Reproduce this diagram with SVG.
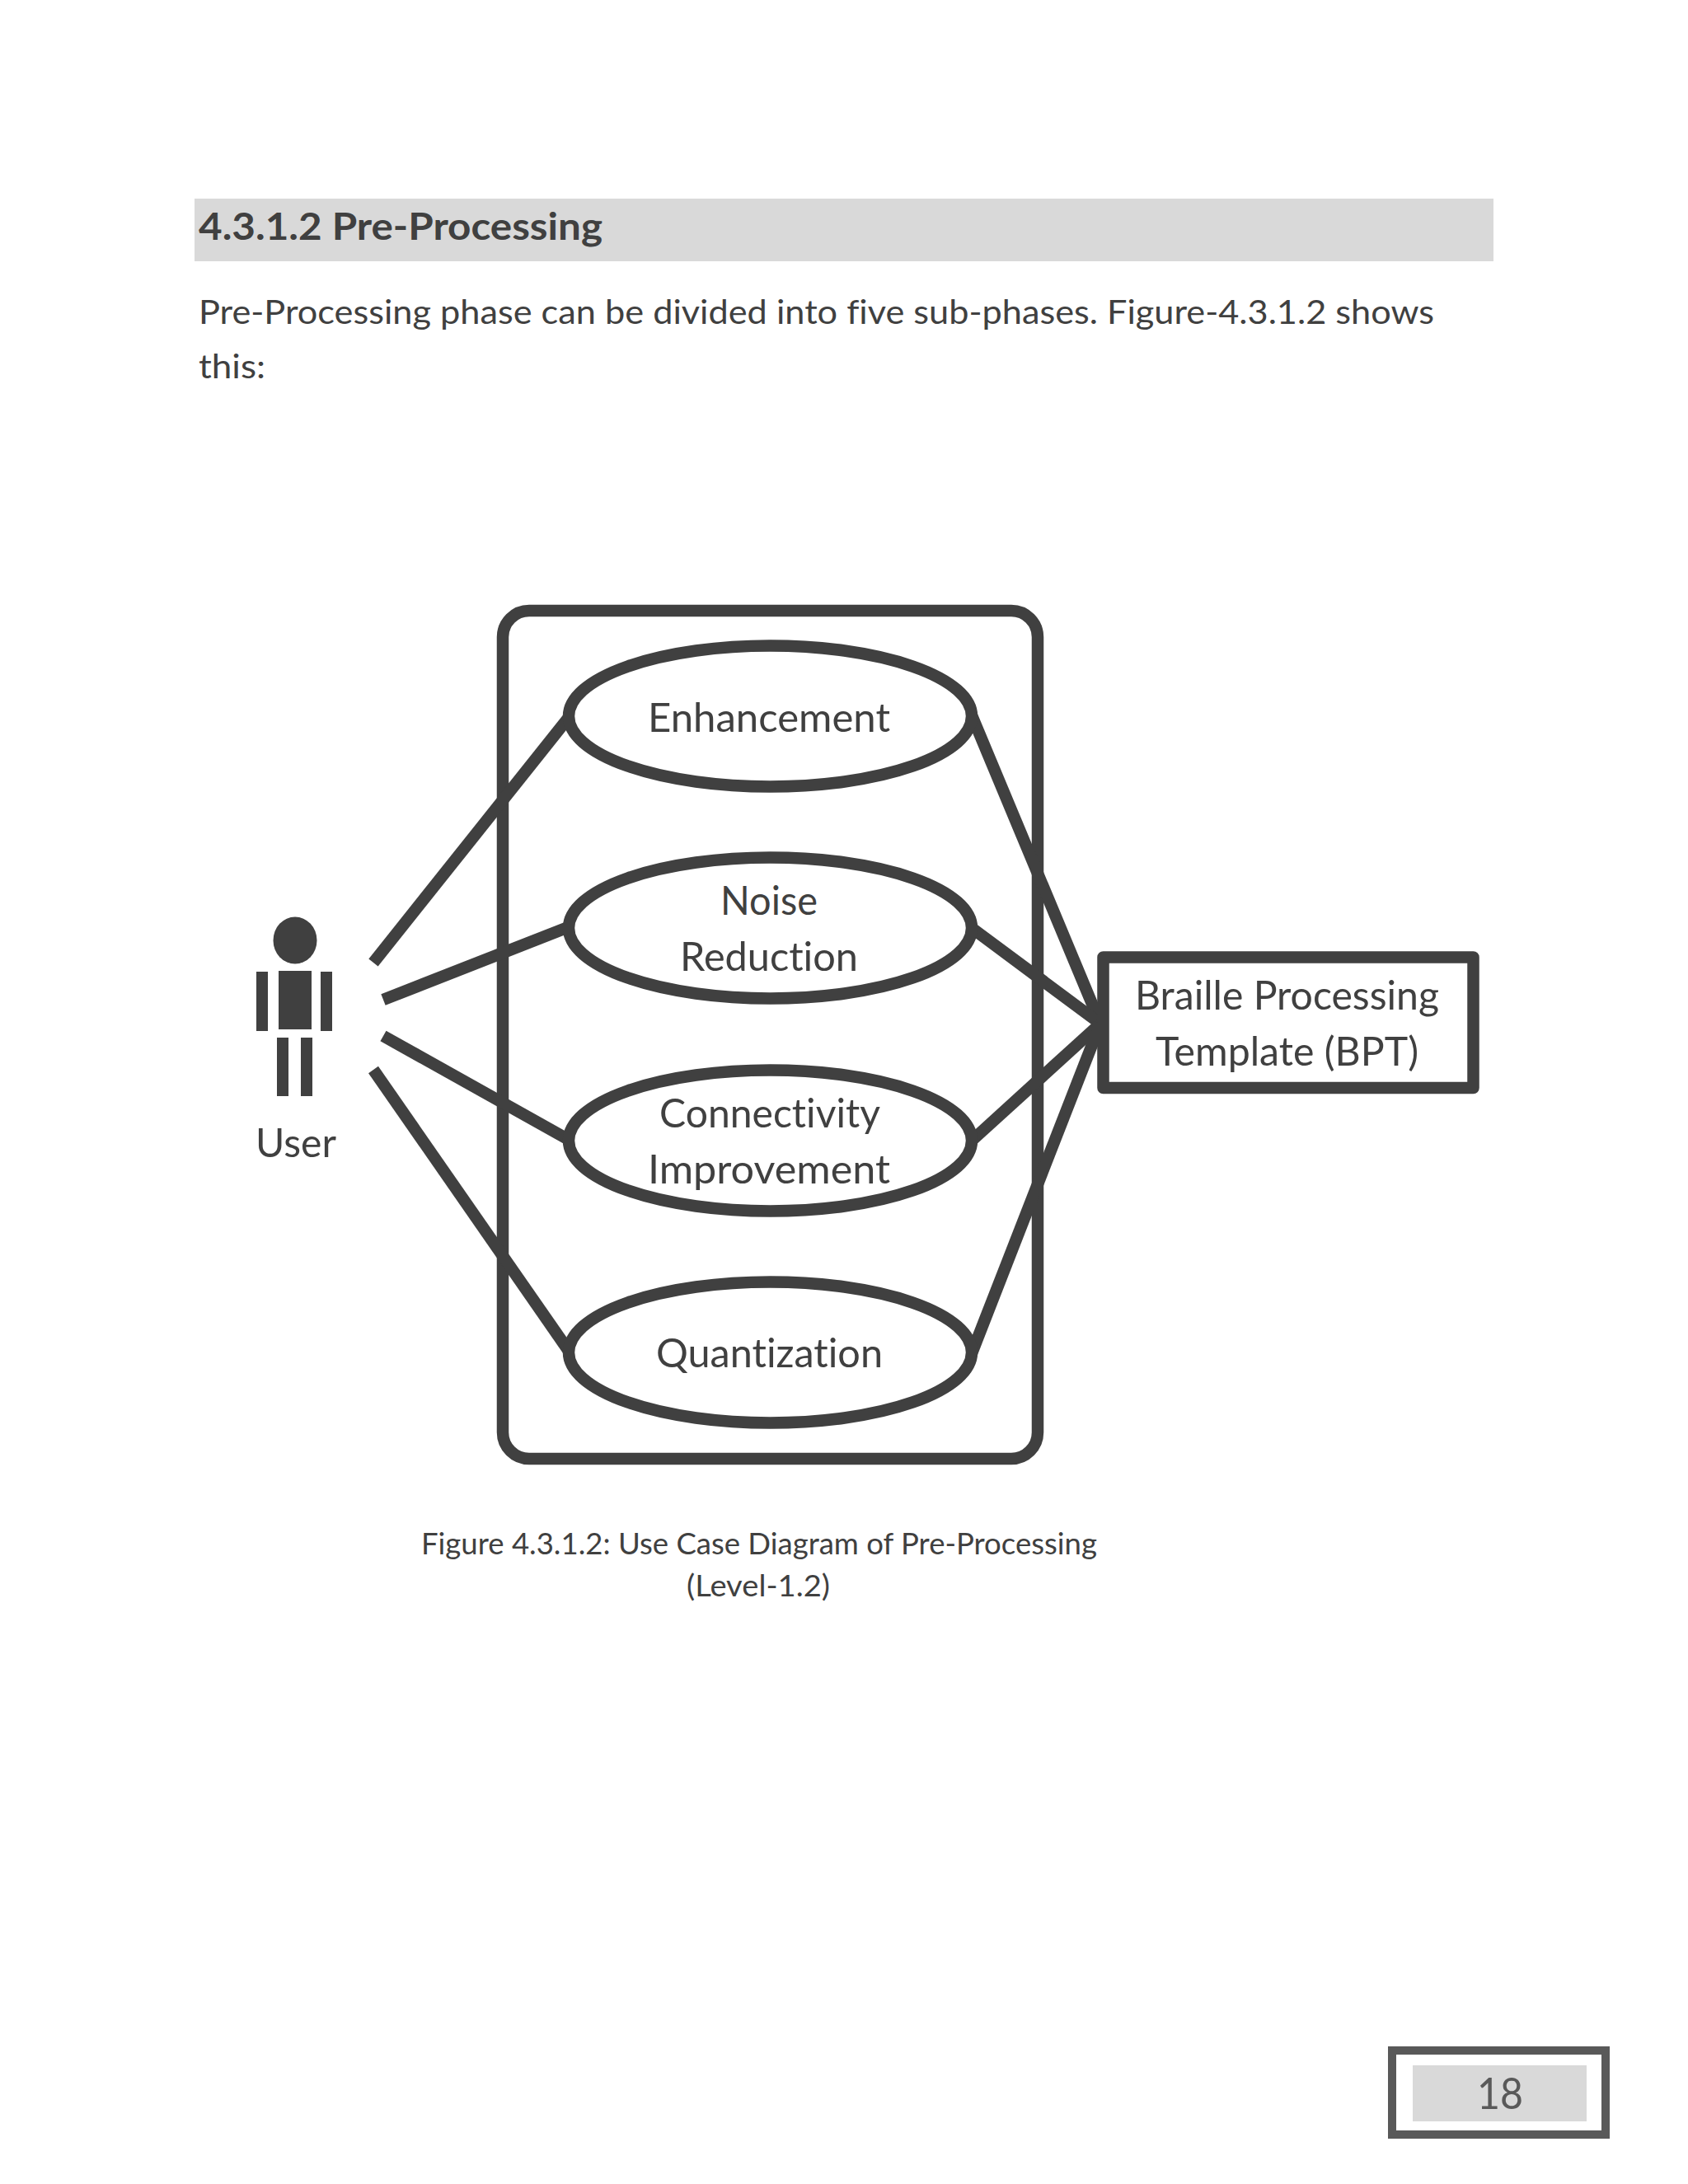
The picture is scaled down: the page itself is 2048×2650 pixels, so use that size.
<svg xmlns="http://www.w3.org/2000/svg" width="2048" height="2650" viewBox="0 0 2048 2650">
<style>
text{font-family:Lato,"Open Sans","Liberation Sans",sans-serif;fill:#404040;font-variant-ligatures:none}
.s{fill:none;stroke:#404040;stroke-width:14.500}
.e{fill:#fff;stroke:#404040;stroke-width:14.500}
.l{font-size:48px}
.c{font-size:36px}
.b{font-size:41px}
.f{fill:#404040}
</style>
<rect width="2048" height="2650" fill="#fff"/>
<g id="header">
<rect x="236" y="241" width="1576" height="76" fill="#d9d9d9"/>
<text x="241" y="291" font-size="46" font-weight="700" textLength="490" lengthAdjust="spacingAndGlyphs">4.3.1.2 Pre-Processing</text>
</g>
<g id="body">
<text class="b" x="241" y="393" textLength="1499" lengthAdjust="spacingAndGlyphs">Pre-Processing phase can be divided into five sub-phases. Figure-4.3.1.2 shows</text>
<text class="b" x="241" y="459" textLength="81" lengthAdjust="spacingAndGlyphs">this:</text>
</g>
<g id="system"><rect class="s" x="610" y="741" width="649" height="1029" rx="32"/></g>
<g id="connectors" class="s">
<path d="M453 1168L692 868"/>
<path d="M465 1213L692 1124"/>
<path d="M465 1257L692 1384"/>
<path d="M453 1298L692 1642"/>
<path d="M1179 868L1335 1242"/>
<path d="M1179 1126L1335 1242"/>
<path d="M1179 1384L1335 1242"/>
<path d="M1179 1642L1335 1242"/>
</g>
<g id="actor">
<ellipse class="f" cx="358" cy="1141" rx="26.500" ry="28.500"/>
<rect class="f" x="311" y="1179" width="14" height="72"/>
<rect class="f" x="338" y="1178" width="40" height="71"/>
<rect class="f" x="389" y="1179" width="14" height="72"/>
<rect class="f" x="336" y="1259" width="14" height="71"/>
<rect class="f" x="365" y="1259" width="14" height="71"/>
<text class="l" x="310" y="1404" textLength="98" lengthAdjust="spacingAndGlyphs">User</text>
</g>
<g id="enhancement">
<ellipse class="e" cx="934.500" cy="869" rx="244.500" ry="85.500"/>
<text class="l" x="786" y="887.500" textLength="294" lengthAdjust="spacingAndGlyphs">Enhancement</text>
</g>
<g id="noise">
<ellipse class="e" cx="934.500" cy="1126" rx="244.500" ry="85.500"/>
<text class="l" x="874" y="1110" textLength="118" lengthAdjust="spacingAndGlyphs">Noise</text>
<text class="l" x="825" y="1178" textLength="216" lengthAdjust="spacingAndGlyphs">Reduction</text>
</g>
<g id="connectivity">
<ellipse class="e" cx="934.500" cy="1384" rx="244.500" ry="85.500"/>
<text class="l" x="800" y="1368" textLength="268" lengthAdjust="spacingAndGlyphs">Connectivity</text>
<text class="l" x="786" y="1436" textLength="294" lengthAdjust="spacingAndGlyphs">Improvement</text>
</g>
<g id="quantization">
<ellipse class="e" cx="934.500" cy="1641" rx="244.500" ry="85.500"/>
<text class="l" x="796" y="1659" textLength="275" lengthAdjust="spacingAndGlyphs">Quantization</text>
</g>
<g id="bpt">
<rect x="1338.500" y="1161.500" width="449" height="158.500" fill="#fff" stroke="#404040" stroke-width="14.500" stroke-linejoin="round"/>
<text class="l" x="1377" y="1225" textLength="369" lengthAdjust="spacingAndGlyphs">Braille Processing</text>
<text class="l" x="1402" y="1293" textLength="319" lengthAdjust="spacingAndGlyphs">Template (BPT)</text>
</g>
<g id="caption">
<text class="c" x="511" y="1886" textLength="820" lengthAdjust="spacingAndGlyphs">Figure 4.3.1.2: Use Case Diagram of Pre-Processing</text>
<text class="c" x="833" y="1937" textLength="174" lengthAdjust="spacingAndGlyphs">(Level-1.2)</text>
</g>
<g id="page">
<rect x="1689" y="2488" width="259" height="102" fill="#fff" stroke="#595959" stroke-width="10"/>
<rect x="1714" y="2506" width="211" height="68" fill="#d9d9d9"/>
<text x="1792" y="2559" font-size="52" style="fill:#595959" textLength="56" lengthAdjust="spacingAndGlyphs">18</text>
</g>
</svg>
